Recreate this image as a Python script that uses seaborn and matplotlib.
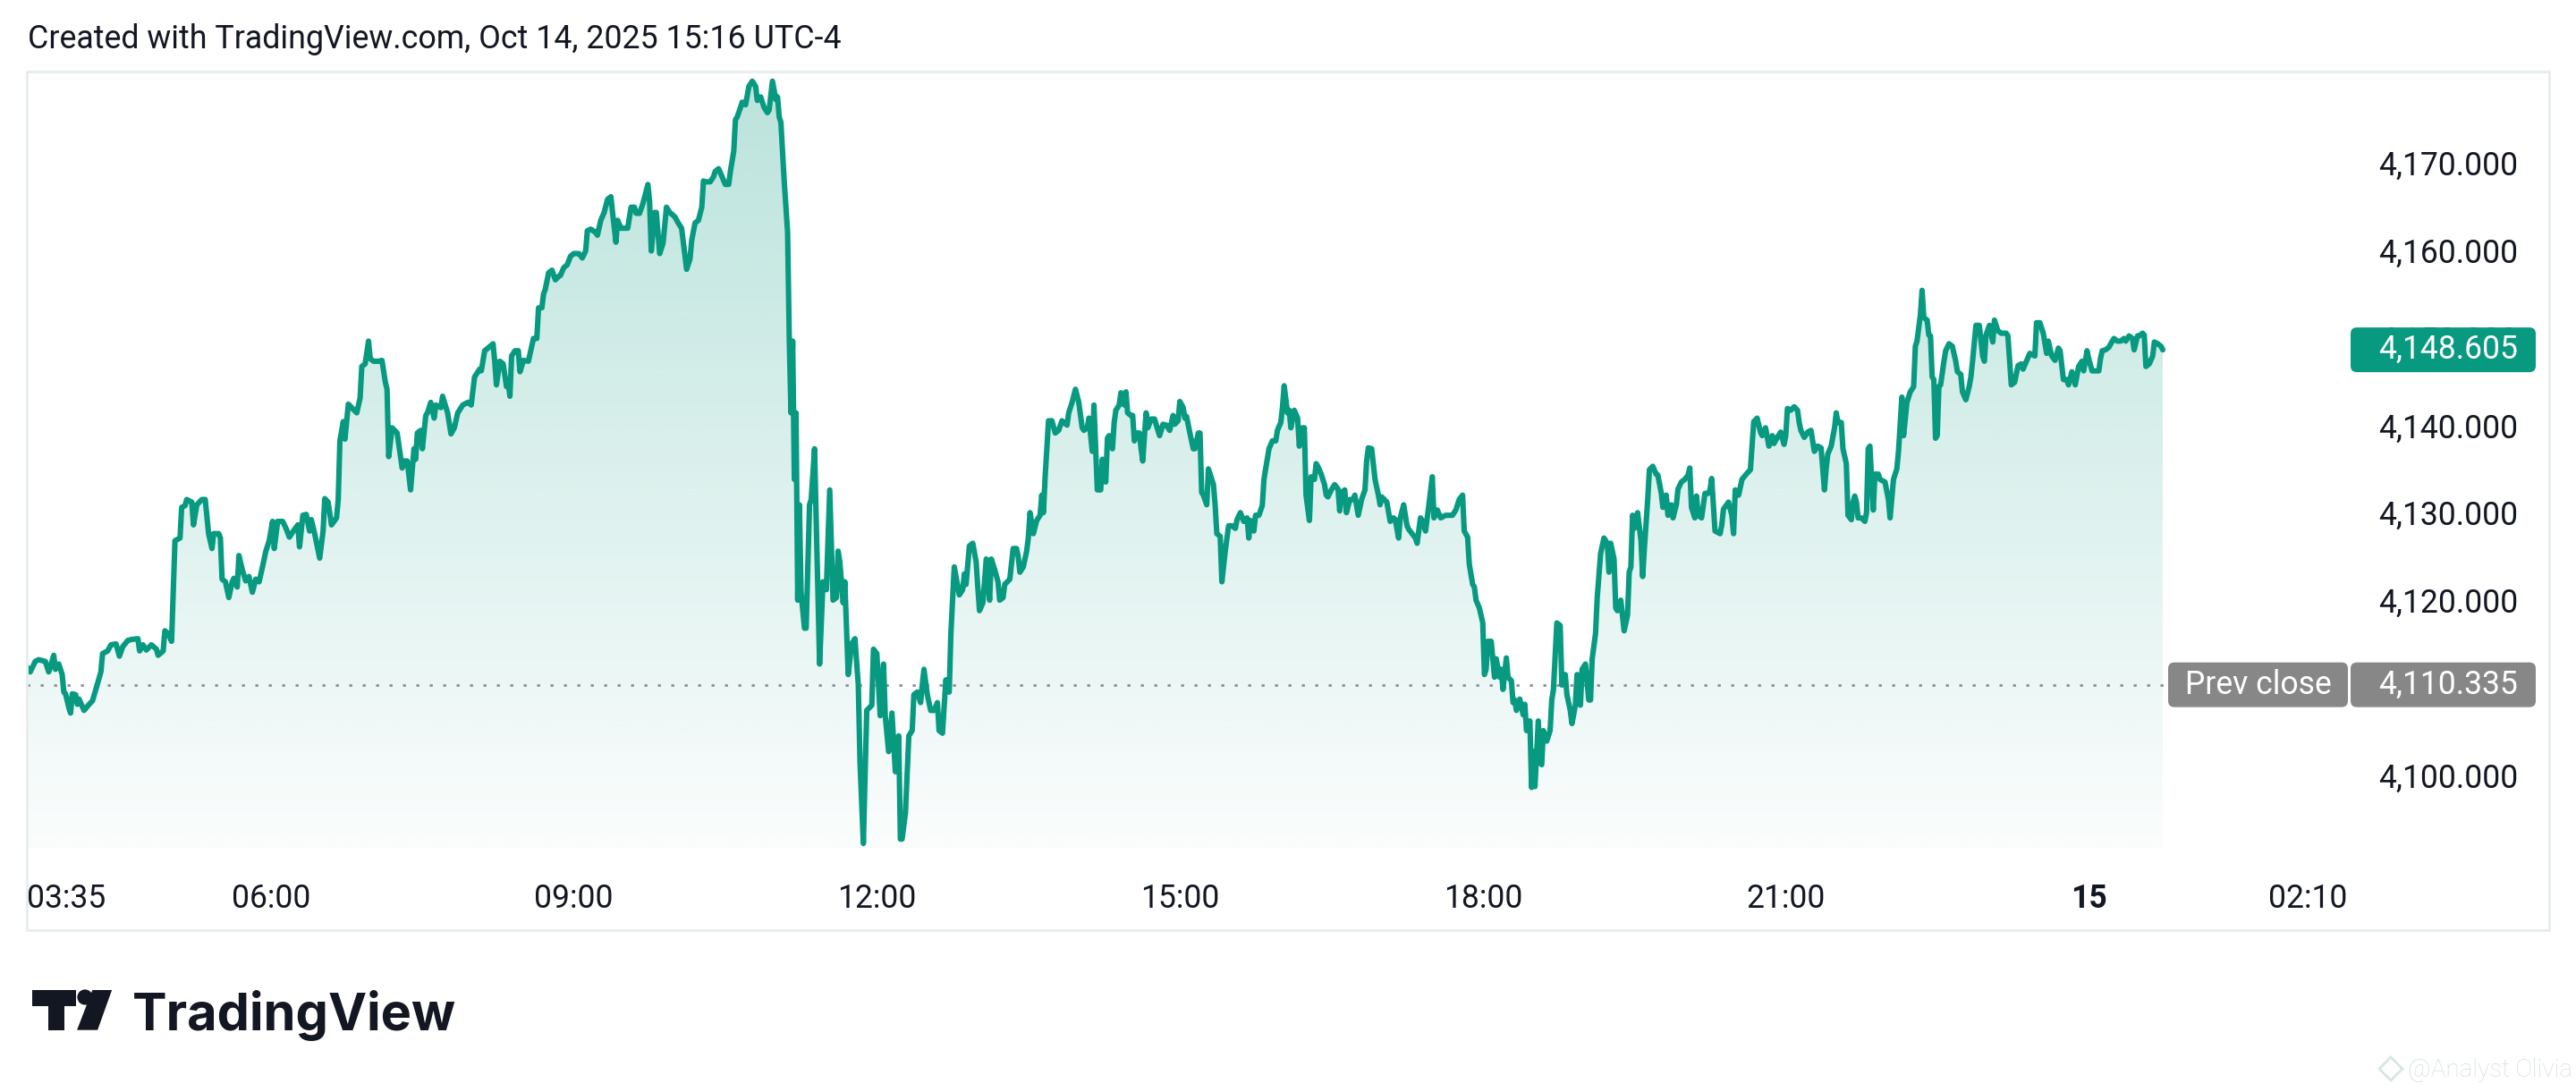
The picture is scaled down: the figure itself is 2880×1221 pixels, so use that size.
import numpy as np
import pandas as pd
import matplotlib.pyplot as plt
import matplotlib.dates as mdates
from matplotlib.colors import to_rgb
from matplotlib.patches import FancyBboxPatch, Rectangle, Circle, Polygon, RegularPolygon
from matplotlib.transforms import IdentityTransform
import seaborn as sns

# values: minutes after the session start, and price
session_start = "2025-10-14 03:35"
minutes = [
    0, 2, 5, 7, 11, 13, 14, 16, 17, 19, 21, 22, 23, 25, 26, 27, 29, 30, 31, 34,
    37, 39, 41, 44, 45, 48, 50, 53, 55, 57, 60, 62, 66, 67, 69, 71, 74, 77, 78, 81,
    82, 84, 86, 88, 91, 92, 94, 95, 98, 99, 101, 104, 106, 108, 110, 111, 114, 115, 116, 118,
    120, 122, 123, 125, 126, 128, 130, 132, 134, 136, 138, 140, 142, 144, 146, 147, 149, 152, 154, 156,
    158, 161, 162, 164, 166, 168, 169, 171, 174, 176, 177, 179, 181, 184, 185, 186, 188, 189, 191, 193,
    196, 198, 199, 201, 203, 204, 206,
    209, 211, 213, 214, 215, 217, 220, 223, 224, 226, 228, 230, 231, 232, 234, 235, 237, 238, 240, 242,
    243, 246, 247, 250, 252, 254, 256, 259, 262, 264, 266, 269, 270, 272, 274, 277, 278, 279, 281, 283,
    285, 286, 287, 288, 290, 292, 293, 295, 298, 300, 301, 303, 304, 306, 307, 308, 310, 312, 314, 316,
    317, 319, 321, 323, 325, 328, 330, 332, 333, 335, 338, 339, 341, 343, 345, 347, 348, 350, 351, 353,
    355, 357, 359, 361, 362, 364, 366, 369, 370, 371, 373, 374, 376, 378, 380, 382, 385, 387, 389, 392,
    394, 395, 397, 399, 401, 402, 403, 406, 408, 409, 411, 413, 415, 417, 418, 420,
    421, 422, 424, 425, 427, 429, 431, 433, 434, 436, 438, 440, 441, 443, 445, 446, 447, 448, 450, 452,
    453, 454, 455, 456, 457, 458, 459, 460, 462, 463, 465, 466, 468, 470, 471, 473, 475, 477, 479, 481,
    482, 483, 485, 486, 488, 490, 492, 494, 495, 497, 499, 502, 503, 505, 507, 509, 510, 512, 514, 516,
    518, 519, 520, 522, 524, 526, 527, 529, 531, 532, 533, 535, 537, 539, 541, 542, 544, 546, 548, 549,
    551, 554, 556, 557, 558, 560, 562, 564, 565, 566, 568, 570, 572, 573, 575, 577, 578, 580, 581, 584,
    586, 588, 589, 590, 592, 594, 595, 596, 598, 600, 602, 603, 604, 605, 607, 609, 611, 613, 615, 618,
    619, 621, 623, 625, 627, 628, 630, 631,
    633, 634, 636, 638, 639, 641, 642, 643, 645, 646, 647, 649, 650, 651, 652, 653, 654, 656, 657, 658,
    659, 661, 662, 663, 664, 665, 666, 668, 670, 672, 673, 675, 677, 679, 681, 682, 684, 685, 687, 688,
    689, 691, 693, 694, 696, 697, 698, 699, 701, 702, 704, 705, 706, 707, 709, 710, 712, 713, 714, 716,
    718, 719, 721, 723, 725, 726, 727, 729, 730, 732, 734, 735, 736, 738, 740, 742, 743, 745, 746, 747,
    749, 750, 751, 753, 755, 756, 758, 759, 760, 762, 763, 765, 766, 767, 769, 771, 772, 773, 775, 777,
    779, 780, 781, 783, 784, 786, 788, 789, 791, 793, 795, 796, 797, 799, 801, 803, 804, 805, 808, 810,
    812, 813, 815, 816, 818, 820, 821, 823, 825, 826, 828, 829, 831, 833, 835, 836, 838, 840, 843, 844,
    847, 849, 851, 853, 854, 856, 857, 859, 860, 861, 863, 865, 866, 867, 868, 870, 872, 873, 875, 876,
    877, 879, 880, 882, 883, 884, 885, 887, 889, 890, 891, 893, 894, 895, 896, 898, 899, 900, 901, 903,
    905, 906, 907, 909, 911, 912, 914, 915, 917, 918, 920, 921, 923, 924, 926, 928, 929, 930, 932, 933,
    935, 936, 937, 939, 940, 941, 943, 944, 945, 947, 949, 951, 952, 953, 954, 955, 957, 959, 960, 961,
    963, 964, 966, 968, 969, 971, 972, 974, 975, 977, 978, 980, 981, 983, 985, 987, 988, 989, 991, 992,
    993, 995, 997, 999, 1000, 1001, 1003, 1006, 1007, 1008, 1011, 1013, 1014, 1015, 1017, 1019, 1022, 1024, 1026, 1028,
    1030, 1031, 1033, 1035, 1037, 1038, 1040, 1042, 1044, 1045, 1046, 1048, 1050, 1052, 1053, 1054, 1056, 1058,
    1060, 1061, 1062, 1064, 1066, 1068, 1069, 1070, 1072, 1074, 1075, 1076, 1078, 1079, 1081, 1082, 1084, 1085, 1086, 1087,
    1088, 1090, 1092, 1093, 1094, 1095, 1097, 1098, 1100, 1101, 1104, 1106, 1107, 1109, 1111, 1112, 1114, 1115, 1117, 1119,
    1121, 1122, 1123, 1125, 1126, 1127, 1129, 1130, 1131, 1132, 1133, 1134, 1135, 1136, 1137, 1139, 1140, 1142, 1144, 1146,
    1147, 1149, 1150, 1152, 1154, 1155, 1156, 1158, 1160, 1162, 1163, 1164, 1166, 1168, 1169, 1171, 1173, 1176, 1177, 1179,
    1181, 1183, 1185, 1186, 1188, 1190, 1193, 1194, 1196, 1198, 1200, 1201, 1203, 1205, 1207, 1208, 1210, 1212, 1213, 1215,
    1217, 1219, 1221, 1222, 1224, 1225, 1227, 1231, 1232, 1233, 1235, 1237, 1239, 1240, 1242, 1244, 1246, 1247, 1249, 1251,
    1252, 1254, 1255, 1257, 1258, 1259, 1261, 1263, 1264, 1266, 1268, 1269,
]
prices = [
    4112.4, 4111.8, 4113.0, 4113.2, 4113.0, 4111.8, 4112.4, 4113.7, 4112.1, 4112.7,
    4111.5, 4109.5, 4109.3, 4107.7, 4107.1, 4109.3, 4109.2, 4108.1, 4108.7, 4107.4,
    4108.1, 4108.5, 4109.8, 4111.8, 4113.9, 4114.2, 4114.9, 4115.0, 4113.6, 4114.7,
    4115.4, 4115.5, 4115.6, 4114.2, 4114.9, 4114.3, 4114.9, 4114.4, 4113.7, 4114.2,
    4116.5, 4116.2, 4115.3, 4126.8, 4127.1, 4130.6, 4130.8, 4131.5, 4131.2, 4128.6,
    4130.9, 4131.5, 4131.5, 4127.6, 4125.9, 4127.6, 4127.6, 4127.1, 4122.4, 4122.1,
    4120.3, 4122.1, 4122.5, 4121.5, 4125.1, 4123.5, 4122.2, 4122.7, 4120.9, 4122.4,
    4122.1, 4123.8, 4125.6, 4126.8, 4129.0, 4125.9, 4129.0, 4129.0, 4128.2, 4127.2,
    4127.8, 4128.6, 4126.1, 4129.7, 4129.8, 4127.9, 4129.2, 4127.6, 4124.8, 4127.9,
    4131.6, 4131.2, 4128.6, 4129.4, 4131.5, 4138.2, 4140.4, 4138.4, 4142.4, 4142.0,
    4141.4, 4143.1, 4146.7, 4147.0, 4149.6, 4147.6, 4147.3,
    4147.3, 4147.4, 4144.9, 4144.1, 4136.4, 4139.7, 4139.1, 4135.1, 4135.9, 4135.9,
    4132.6, 4137.3, 4136.1, 4139.1, 4139.4, 4137.3, 4141.1, 4141.4, 4142.6, 4140.8,
    4142.3, 4142.0, 4143.3, 4141.4, 4139.0, 4139.7, 4141.4, 4142.3, 4142.6, 4142.3,
    4145.5, 4146.4, 4146.2, 4148.5, 4148.8, 4149.3, 4147.3, 4144.6, 4147.3, 4147.0,
    4144.4, 4144.9, 4143.3, 4147.9, 4148.5, 4148.5, 4146.1, 4147.4, 4147.3, 4149.0,
    4149.9, 4149.9, 4153.4, 4153.4, 4155.0, 4155.5, 4157.4, 4157.7, 4156.6, 4157.0,
    4157.1, 4158.0, 4158.3, 4159.3, 4159.6, 4159.6, 4159.1, 4159.9, 4162.2, 4162.4,
    4162.0, 4161.7, 4163.4, 4164.3, 4165.8, 4166.1, 4164.3, 4160.9, 4163.4, 4162.5,
    4162.5, 4162.5, 4164.9, 4164.9, 4164.2, 4164.2, 4165.3, 4167.5, 4165.5, 4159.9,
    4164.3, 4164.3, 4159.6, 4160.8, 4164.9, 4164.3, 4163.8, 4163.1, 4162.5, 4157.8,
    4159.0, 4161.1, 4163.1, 4163.4, 4164.9, 4167.9, 4167.8, 4167.8, 4168.4, 4169.0,
    4169.3, 4168.4, 4167.5, 4167.5, 4169.0, 4171.3,
    4174.9, 4175.2, 4176.3, 4176.9, 4176.6, 4178.7, 4179.3, 4178.7, 4177.1, 4177.5,
    4176.3, 4175.7, 4176.0, 4179.3, 4177.2, 4177.5, 4175.2, 4174.6, 4167.8, 4162.0,
    4149.6, 4141.4, 4149.6, 4133.8, 4141.4, 4120.0, 4130.9, 4120.9, 4116.8, 4116.8,
    4130.9, 4131.5, 4137.3, 4120.9, 4112.7, 4122.1, 4121.2, 4132.6, 4120.0, 4120.3,
    4125.6, 4124.4, 4119.7, 4122.1, 4111.5, 4115.0, 4115.6, 4110.3, 4101.5, 4092.2,
    4107.4, 4108.0, 4114.4, 4113.9, 4106.8, 4112.7, 4106.8, 4102.7, 4107.1, 4100.4,
    4104.5, 4092.7, 4092.7, 4095.7, 4104.5, 4105.1, 4109.2, 4109.5, 4108.3, 4110.3,
    4112.1, 4109.2, 4107.4, 4107.4, 4108.3, 4105.1, 4104.8, 4110.9, 4109.5, 4116.2,
    4123.8, 4120.6, 4121.2, 4123.0, 4121.8, 4126.2, 4126.5, 4124.4, 4121.5, 4118.8,
    4119.7, 4124.7, 4120.0, 4124.7, 4123.5, 4122.1, 4120.0, 4120.3, 4121.8, 4122.4,
    4125.9, 4125.9, 4125.0, 4123.2, 4123.8, 4125.6, 4127.1, 4130.0, 4127.6, 4129.1,
    4129.7, 4132.0, 4130.0, 4134.1, 4140.5, 4140.5, 4139.1, 4139.4, 4140.5, 4140.0,
    4141.4, 4142.6, 4144.1, 4142.6, 4139.7, 4139.4, 4139.7, 4140.8,
    4137.0, 4142.3, 4132.6, 4132.6, 4136.1, 4133.5, 4138.5, 4138.8, 4137.3, 4140.3,
    4141.7, 4142.3, 4143.7, 4143.5, 4142.3, 4143.8, 4141.4, 4141.1, 4141.1, 4138.2,
    4139.1, 4139.1, 4137.3, 4135.9, 4138.8, 4141.4, 4139.7, 4140.7, 4140.7, 4139.4,
    4138.8, 4140.1, 4140.0, 4139.4, 4141.1, 4140.1, 4140.5, 4142.7, 4142.0, 4140.8,
    4141.0, 4139.1, 4137.3, 4137.3, 4139.1, 4139.1, 4132.3, 4132.0, 4130.9, 4135.0,
    4133.8, 4133.2, 4130.9, 4127.6, 4127.3, 4122.1, 4125.6, 4127.1, 4128.5, 4128.5,
    4128.2, 4129.2, 4130.0, 4129.0, 4129.4, 4127.1, 4129.1, 4127.9, 4129.7, 4129.7,
    4130.8, 4133.8, 4135.0, 4137.3, 4138.2, 4138.2, 4139.4, 4140.3, 4142.0, 4144.5,
    4141.4, 4141.7, 4139.7, 4141.7, 4140.8, 4137.6, 4139.7, 4139.7, 4132.0, 4129.1,
    4134.1, 4133.8, 4135.6, 4135.3, 4134.4, 4133.2, 4132.0, 4131.8, 4132.6, 4133.2,
    4132.7, 4130.2, 4132.3, 4132.6, 4130.0, 4131.5, 4131.5, 4132.0, 4129.7, 4131.5,
    4132.6, 4135.9, 4137.4, 4137.3, 4133.8, 4132.0, 4130.9, 4131.8, 4131.2, 4129.0,
    4129.4, 4129.2, 4127.1, 4129.4, 4130.9, 4128.5, 4128.1, 4127.6, 4127.1, 4126.5,
    4129.4, 4129.1, 4127.9, 4130.9, 4134.1, 4129.4, 4130.3, 4129.4, 4129.7, 4129.7,
    4129.7, 4130.3, 4131.5, 4132.0, 4127.9, 4127.2, 4124.1, 4121.8, 4121.5, 4120.0,
    4119.1, 4117.4, 4111.5, 4112.1, 4115.3, 4115.3, 4111.2, 4113.3, 4111.2, 4112.1,
    4109.8, 4113.4, 4111.2, 4110.8, 4108.3, 4108.6, 4107.4, 4108.7, 4106.9, 4108.1,
    4105.1, 4106.2, 4098.6, 4102.7, 4098.7, 4106.2, 4101.5, 4101.2, 4105.1, 4103.9,
    4105.1, 4108.6, 4109.8, 4117.4, 4117.1, 4110.3, 4111.5, 4109.2, 4107.4, 4105.9,
    4108.0, 4111.5, 4108.0, 4112.1, 4112.7, 4108.6, 4108.6, 4113.3, 4116.2, 4120.3,
    4125.3, 4126.2, 4127.1, 4126.5, 4123.2, 4126.5, 4124.7, 4119.1, 4118.8, 4120.0,
    4116.5, 4118.3, 4123.2, 4123.8, 4129.7, 4128.2, 4130.0, 4126.8, 4122.7, 4125.9,
    4131.5, 4134.9, 4135.3, 4134.4, 4134.3, 4132.3, 4130.6, 4132.0, 4129.7, 4130.9,
    4129.4, 4130.9, 4132.7, 4133.5, 4133.8, 4134.3, 4135.1, 4130.6, 4129.4, 4131.9,
    4129.7, 4129.4, 4132.2, 4132.2, 4132.6, 4133.9, 4127.9, 4127.6, 4128.6, 4130.4,
    4131.2, 4129.7, 4127.6, 4132.6, 4132.0, 4133.8, 4134.5, 4134.9, 4140.4, 4140.8,
    4139.2, 4138.8, 4139.7, 4137.6, 4138.8, 4137.9, 4138.6, 4139.2, 4137.8, 4138.8,
    4141.9, 4141.7, 4142.1, 4141.7, 4140.3, 4139.4, 4138.6, 4139.2,
    4139.4, 4138.2, 4137.0, 4137.6, 4137.4, 4132.6, 4135.0, 4136.7, 4137.6, 4139.7,
    4141.4, 4140.3, 4140.3, 4137.3, 4135.6, 4129.7, 4129.2, 4131.2, 4131.9, 4131.2,
    4129.4, 4129.4, 4129.0, 4130.0, 4137.3, 4137.6, 4130.3, 4134.4, 4134.4, 4133.8,
    4133.5, 4131.5, 4129.4, 4133.8, 4135.0, 4137.0, 4143.2, 4138.8, 4142.6, 4143.8,
    4144.4, 4149.0, 4149.6, 4152.6, 4155.4, 4152.3, 4152.0, 4150.3, 4150.2, 4145.5,
    4145.2, 4138.5, 4138.8, 4144.4, 4144.6, 4147.3, 4148.5, 4149.3, 4149.0, 4147.3,
    4146.1, 4145.8, 4143.8, 4142.9, 4144.4, 4145.5, 4147.3, 4151.4, 4151.4, 4147.9,
    4147.3, 4150.3, 4151.4, 4149.5, 4152.0, 4150.8, 4150.5, 4150.5, 4150.2, 4144.6,
    4144.9, 4146.8, 4147.0, 4146.4, 4147.3, 4148.2, 4147.9, 4151.7, 4151.7, 4150.5,
    4148.2, 4149.6, 4147.9, 4147.4, 4148.8, 4148.5, 4145.2, 4145.2, 4144.6, 4146.1,
    4144.6, 4146.7, 4147.3, 4146.2, 4148.5, 4147.6, 4146.2, 4146.2, 4147.6, 4148.5,
    4148.6, 4148.9, 4149.6, 4149.9, 4149.6, 4149.6, 4149.9, 4149.6, 4150.2, 4149.9,
    4148.6, 4150.2, 4150.2, 4150.5, 4150.3, 4146.7, 4147.0, 4147.9, 4149.5, 4149.3,
    4149.0, 4148.605,
]

prev_close = 4110.335
last_price = 4148.605
price_ticks = [4100, 4120, 4130, 4140, 4150, 4160, 4170]
time_ticks = ["2025-10-14 03:35", "2025-10-14 06:00", "2025-10-14 09:00",
              "2025-10-14 12:00", "2025-10-14 15:00", "2025-10-14 18:00",
              "2025-10-14 21:00", "2025-10-15 00:00", "2025-10-15 02:10"]
time_labels = ["03:35", "06:00", "09:00", "12:00", "15:00", "18:00", "21:00", "15", "02:10"]
title = "Created with TradingView.com, Oct 14, 2025 15:16 UTC-4"

GREEN = "#089981"
GREY = "#878787"
INK = "#131722"
W, H, DPI = 2880, 1221, 200

sns.set_theme(style="white")
plt.rcParams["font.family"] = ["Roboto", "DejaVu Sans"]

df = pd.DataFrame({
    "time": pd.Timestamp(session_start) + pd.to_timedelta(minutes, unit="min"),
    "price": prices,
})

fig = plt.figure(figsize=(W / DPI, H / DPI), dpi=DPI, facecolor="white")
ax = fig.add_axes([30 / W, 1 - 948 / H, 2595 / W, 868 / H])
ax.set_facecolor("white")

x_lo = pd.Timestamp(session_start)
x_hi = pd.Timestamp("2025-10-15 02:34")
y_lo, y_hi = 4091.7, 4180.4

sns.lineplot(data=df, x="time", y="price", ax=ax, color=GREEN, linewidth=2.2,
             estimator=None, errorbar=None, zorder=4)

# area under the line, fading out towards the bottom
area = ax.fill_between(df["time"], df["price"], y_lo, facecolor="none", edgecolor="none")
shade = np.zeros((256, 1, 4))
shade[..., :3] = to_rgb(GREEN)
shade[:, 0, 3] = np.linspace(0.28, 0.02, 256)
xn = mdates.date2num([x_lo, x_hi])
img = ax.imshow(shade, extent=[xn[0], xn[1], y_lo, y_hi], origin="upper",
                aspect="auto", interpolation="bilinear", zorder=2)
img.set_clip_path(area.get_paths()[0], transform=ax.transData)

ax.set_xlim(x_lo, x_hi)
ax.set_ylim(y_lo, y_hi)
ax.axhline(prev_close, xmin=0, xmax=(2421 - 30) / 2595, color="#8a8e97", lw=1.0,
           linestyle=(0, (1.2, 4.2)), zorder=3)

for s in ax.spines.values():
    s.set_visible(False)
ax.set_xlabel("")
ax.set_ylabel("")
ax.grid(False)

ax.set_xticks(pd.to_datetime(time_ticks))
ax.set_xticklabels(time_labels)
ax.tick_params(axis="x", length=0, pad=14, labelsize=12.8, labelcolor=INK)
xt = ax.get_xticklabels()
xt[0].set_ha("left")
xt[7].set_fontweight("bold")

ax.yaxis.tick_right()
ax.set_yticks(price_ticks)
ax.set_yticklabels([f"{v:,.3f}" for v in price_ticks])
ax.tick_params(axis="y", length=0, pad=68.4, labelsize=12.8, labelcolor=INK)
for t in ax.get_yticklabels():
    t.set_ha("right")


def price_tag(x0, x1, price, text, color, text_x, ha):
    yc = ax.transData.transform((xn[0], price))[1]
    fig.add_artist(FancyBboxPatch((x0, yc - 25), x1 - x0, 50,
                                  boxstyle="round,pad=0,rounding_size=7",
                                  transform=IdentityTransform(), facecolor=color,
                                  edgecolor="none", zorder=10))
    fig.text(text_x / W, yc / H, text, ha=ha, va="center", color="white",
             fontsize=12.8, zorder=11)


price_tag(2628, 2835, last_price, f"{last_price:,.3f}", GREEN, 2815, "right")
price_tag(2424, 2625, prev_close, "Prev close", GREY, 2524.5, "center")
price_tag(2628, 2835, prev_close, f"{prev_close:,.3f}", GREY, 2815, "right")

# header and frame
fig.text(31 / W, 1 - 44 / H, title, ha="left", va="center", fontsize=12.9, color=INK)
fig.add_artist(Rectangle((30, H - 1040), 2820, 960, transform=IdentityTransform(),
                         fill=False, edgecolor="#e6eeec", lw=1.0, zorder=1))

# TradingView logo
logo = [Rectangle((36, H - 1125), 49, 18),
        Rectangle((53.5, H - 1151.7), 18.4, 44.4),
        Circle((95, H - 1115), 8.6),
        Polygon([(103.3, H - 1107), (125.1, H - 1107), (109.1, H - 1151.7), (86.1, H - 1151.7)])]
for p in logo:
    p.set_transform(IdentityTransform())
    p.set_facecolor(INK)
    p.set_edgecolor("none")
    fig.add_artist(p)
fig.text(148 / W, 1 - 1151.7 / H, "TradingView", ha="left", va="baseline",
         fontsize=20.8, fontweight="bold", family="Inter", color=INK)

# watermark
fig.add_artist(RegularPolygon((2673, H - 1195), 4, radius=13, transform=IdentityTransform(),
                              facecolor="none", edgecolor="#d6e6e2", lw=1.0))
fig.text(2692 / W, 1 - 1196 / H, "@Analyst Olivia", ha="left", va="center",
         fontsize=10, color="#d3dfdd", fontweight="light")

fig.savefig("out.png", dpi=DPI, facecolor="white")
